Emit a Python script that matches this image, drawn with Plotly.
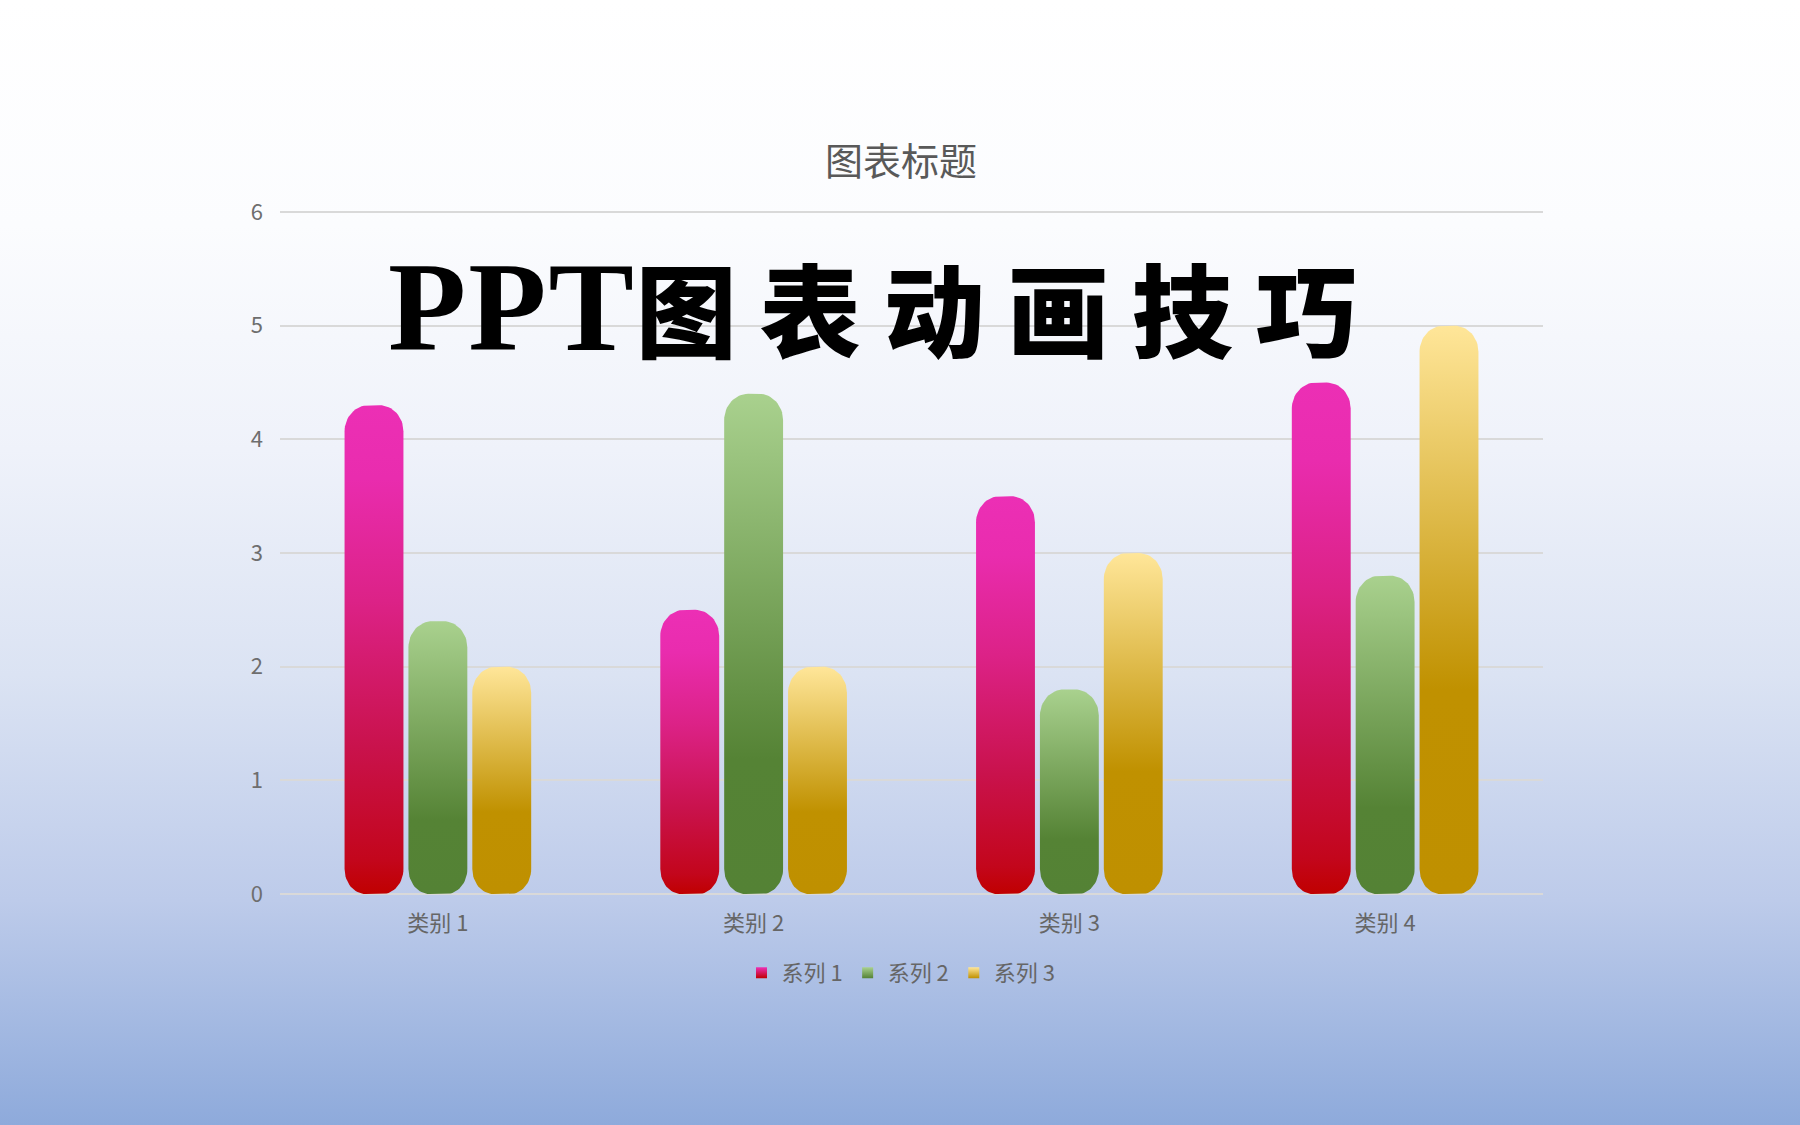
import base64
import math
import plotly.graph_objects as go

# ---- data ----
categories = ["类别 1", "类别 2", "类别 3", "类别 4"]
series_names = ["系列 1", "系列 2", "系列 3"]
series1 = [4.3, 2.5, 3.5, 4.5]
series2 = [2.4, 4.4, 1.8, 2.8]
series3 = [2.0, 2.0, 3.0, 5.0]
y_ticks = [0, 1, 2, 3, 4, 5, 6]
chart_title = "图表标题"
big_title = "PPT图表动画技巧"

# ---- styles ----
W, H = 1800, 1125
FONT = "Noto Sans CJK SC"
unit_px = (894 - 212) / 6
y_range = [0, 6.05]
top_px = 212 - (y_range[1] - 6) * unit_px
x_dom = [280 / W, 1543 / W]
y_dom = [1 - 894 / H, 1 - top_px / H]
x_range = [-0.5, 3.5]
px_per_x = (x_dom[1] - x_dom[0]) * W / (x_range[1] - x_range[0])
px_per_y = (y_dom[1] - y_dom[0]) * H / (y_range[1] - y_range[0])

bar_w = 0.1865          # fraction of category
bar_step = 0.2023       # offset between bars in a group
top_r = (24, 26)        # corner radius px (x, y)
bot_r = (21, 25)

scales = [
    [[0, "#C00000"], [0.07, "#C3061C"], [0.3, "#C9124C"], [0.6, "#DC2287"], [0.85, "#E92CAE"], [1, "#EC2FB5"]],
    [[0, "#548235"], [0.27, "#558335"], [1, "#A9D18E"]],
    [[0, "#BF9000"], [0.36, "#C09100"], [1, "#FFE699"]],
]
legend_top = ["#EC2FB5", "#A9D18E", "#FFE699"]
legend_bot = ["#C00000", "#548235", "#BF9000"]


def rounded_bar(xc, val):
    hw = bar_w / 2
    x0, x1 = xc - hw, xc + hw
    trx, try_ = top_r[0] / px_per_x, top_r[1] / px_per_y
    brx, bry = bot_r[0] / px_per_x, bot_r[1] / px_per_y
    n = 16
    xs, ys = [], []
    for i in range(n + 1):
        a = math.pi + (math.pi / 2) * i / n
        xs.append(x0 + brx + brx * math.cos(a))
        ys.append(0 + bry + bry * math.sin(a))
    for i in range(n + 1):
        a = 1.5 * math.pi + (math.pi / 2) * i / n
        xs.append(x1 - brx + brx * math.cos(a))
        ys.append(0 + bry + bry * math.sin(a))
    for i in range(n + 1):
        a = (math.pi / 2) * i / n
        xs.append(x1 - trx + trx * math.cos(a))
        ys.append(val - try_ + try_ * math.sin(a))
    for i in range(n + 1):
        a = math.pi / 2 + (math.pi / 2) * i / n
        xs.append(x0 + trx + trx * math.cos(a))
        ys.append(val - try_ + try_ * math.sin(a))
    xs.append(xs[0])
    ys.append(ys[0])
    return xs, ys


fig = go.Figure()
all_series = [series1, series2, series3]
for si, vals in enumerate(all_series):
    for ci, v in enumerate(vals):
        xc = ci + (si - 1) * bar_step
        xs, ys = rounded_bar(xc, v)
        fig.add_trace(go.Scatter(
            x=xs, y=ys, mode="lines", line=dict(width=0),
            fill="toself",
            fillgradient=dict(type="vertical", colorscale=scales[si], start=0, stop=v),
            showlegend=False, hoverinfo="skip",
        ))

for si, name in enumerate(series_names):
    fig.add_trace(go.Scatter(
        x=[None], y=[None], mode="markers", name=name,
        marker=dict(symbol="square", size=11, color=legend_top[si],
                    gradient=dict(type="vertical", color=legend_bot[si])),
        showlegend=True,
    ))

bg_svg = (
    "<svg xmlns='http://www.w3.org/2000/svg' width='1800' height='1125' preserveAspectRatio='none'>"
    "<defs><linearGradient id='g' x1='0' y1='0' x2='0' y2='1'>"
    "<stop offset='0' stop-color='#ffffff'/>"
    "<stop offset='0.2' stop-color='#fbfcfe'/>"
    "<stop offset='0.4' stop-color='#eff2fa'/>"
    "<stop offset='0.6' stop-color='#dbe3f3'/>"
    "<stop offset='0.8' stop-color='#bdcbea'/>"
    "<stop offset='1' stop-color='#8eaadb'/>"
    "</linearGradient></defs>"
    "<rect width='1800' height='1125' fill='url(#g)'/></svg>"
)
bg_uri = "data:image/svg+xml;base64," + base64.b64encode(bg_svg.encode()).decode()

big_text = (
    "<span style='font-family:Liberation Serif;font-size:128px;letter-spacing:2px'>"
    + big_title[:3] + "</span>"
    + "<span style='letter-spacing:23px'>" + big_title[3:] + "</span>"
)

fig.update_layout(
    width=W, height=H,
    margin=dict(l=0, r=0, t=0, b=0),
    paper_bgcolor="#ffffff",
    plot_bgcolor="rgba(0,0,0,0)",
    font=dict(family=FONT, color="#666666", size=22),
    images=[dict(source=bg_uri, xref="paper", yref="paper", x=0, y=1,
                 sizex=1, sizey=1, sizing="stretch", xanchor="left", yanchor="top",
                 layer="below")],
    xaxis=dict(domain=x_dom, range=x_range, tickvals=list(range(len(categories))),
               ticktext=categories, showgrid=False, zeroline=False,
               showline=False, ticklabelstandoff=14, fixedrange=True, automargin=False,
               tickfont=dict(size=22, color="#666666")),
    yaxis=dict(domain=y_dom, range=y_range, tickvals=y_ticks, showgrid=True,
               gridcolor="#d9d9d9", gridwidth=1.5, zeroline=True, zerolinecolor="#d9d9d9",
               zerolinewidth=1.5, showline=False, ticklabelstandoff=16, automargin=False,
               tickfont=dict(size=22, color="#6e6e6e")),
    legend=dict(orientation="h", x=901 / W, xanchor="center", y=1 - 973 / H,
                yanchor="middle", font=dict(size=22, color="#666666"),
                bgcolor="rgba(0,0,0,0)", itemwidth=30, tracegroupgap=0),
    showlegend=True,
    annotations=[
        dict(text=chart_title, x=901 / W, y=1 - 159 / H, xref="paper", yref="paper",
             showarrow=False, font=dict(size=38, color="#595959", family=FONT),
             xanchor="center", yanchor="middle"),
        dict(text=big_text,
             x=884 / W, y=1 - 306 / H, xref="paper", yref="paper",
             showarrow=False, font=dict(size=101, color="#000000", family=FONT, weight=900),
             xanchor="center", yanchor="middle"),
    ],
)

fig.write_html(
    "out.html",
    config={"displayModeBar": False},
    post_script="document.body.style.margin='0';document.body.style.overflow='hidden';",
)
